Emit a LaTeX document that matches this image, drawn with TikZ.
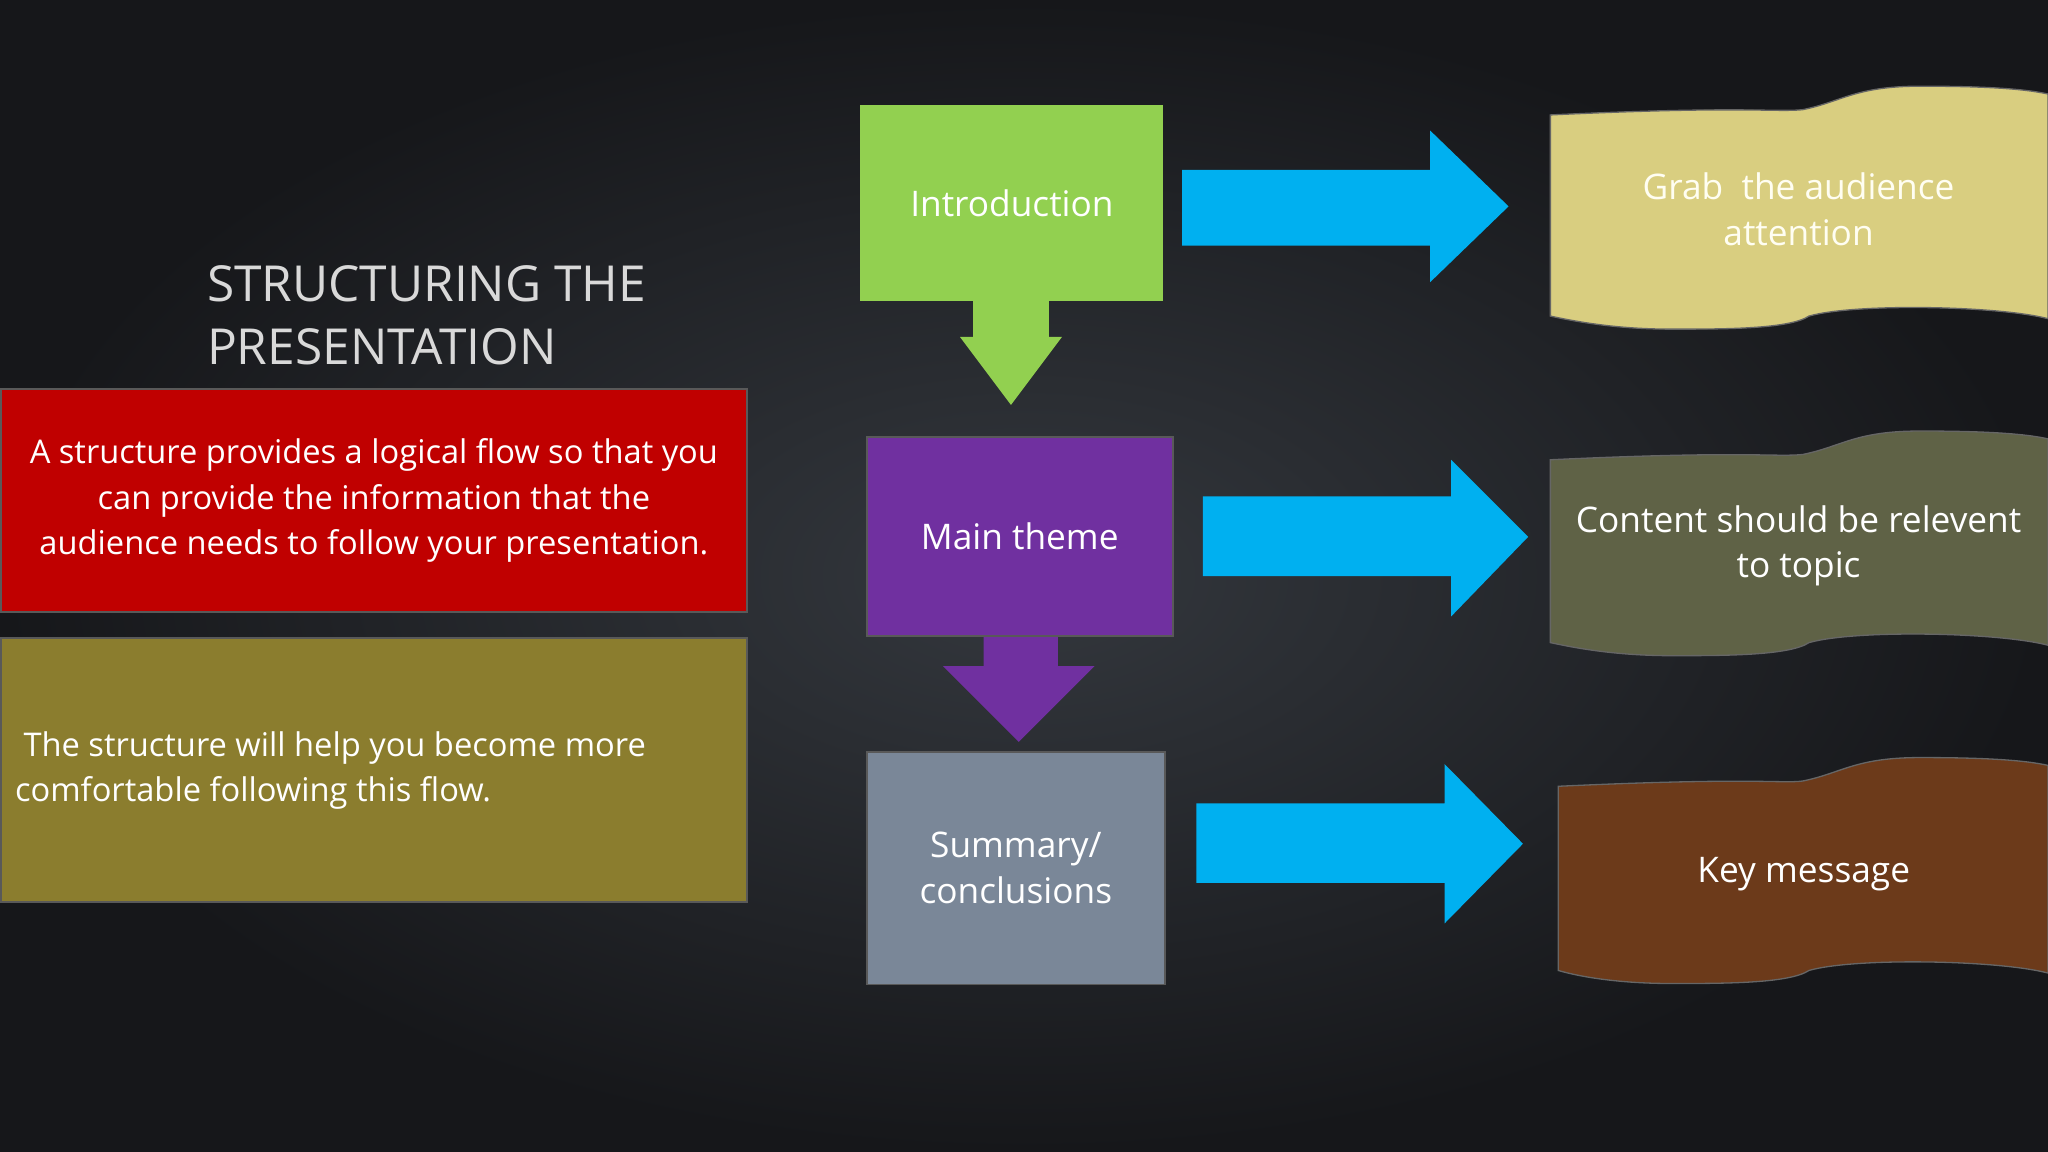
\documentclass[tikz,border=0pt]{standalone}
\usepackage{fontspec}
\setmainfont{Open Sans}
\begin{document}
\begin{tikzpicture}[x=1pt,y=-1pt,
 box/.style={draw=gray!70!black,line width=1.5pt,inner sep=0pt},
 lbl/.style={text=white,align=center,font=\fontsize{27}{35}\selectfont},
 blue/.style={fill=cyan!70!blue!90,draw=none}]
\useasboundingbox (0,0) rectangle (1568,882);
\definecolor{bgin}{RGB}{52,56,62}
\definecolor{bgout}{RGB}{22,23,26}
\shade[inner color=bgin, outer color=bgout] (0,0) rectangle (1568,882);
\node[anchor=north west,text=black!15,align=left,font=\fontsize{38}{48}\selectfont] (title) at (155,200) {STRUCTURING THE\\PRESENTATION};
\node[box,fill={rgb,255:red,192;green,0;blue,0},minimum width=571,minimum height=171,anchor=north west,lbl,font=\fontsize{25}{35}\selectfont] (red) at (0,297) {A structure provides a logical flow so that you\\can provide the information that the\\audience needs to follow your presentation.};
\node[box,fill={rgb,255:red,139;green,125;blue,46},minimum width=571,minimum height=202,anchor=north west] (olive) at (0,488) {};
\node[anchor=west,text=white,align=left,font=\fontsize{25}{35}\selectfont] (olivet) at (8,590) {\ The structure will help you become more\\comfortable following this flow.};
% down arrows
\fill[color={rgb,255:red,146;green,208;blue,80}] (745,225)--(803,225)--(803,258)--(813,258)--(774,310)--(735,258)--(745,258)--cycle;
\fill[color={rgb,255:red,112;green,48;blue,160}] (753,480)--(810,480)--(810,510)--(838,510)--(780,568)--(722,510)--(753,510)--cycle;
\node[box,fill={rgb,255:red,146;green,208;blue,80},draw=none,minimum width=232,minimum height=150,anchor=north west] (intro) at (658,80) {};
\node[lbl] at (intro) {Introduction};
\node[box,fill={rgb,255:red,112;green,48;blue,160},minimum width=234,minimum height=152,anchor=north west] (main) at (663,334) {};
\node[lbl] at (main) {Main theme};
\node[box,fill={rgb,255:red,122;green,135;blue,152},minimum width=228,minimum height=178,anchor=north west] (summ) at (663,575) {};
\node[lbl] at (summ) {Summary/\\conclusions};
% blue arrows
\fill[color={rgb,255:red,0;green,176;blue,240}] (905,130)--(1095,130)--(1095,100)--(1155,158)--(1095,216)--(1095,188)--(905,188)--cycle;
\fill[color={rgb,255:red,0;green,176;blue,240}] (921,380)--(1111,380)--(1111,352)--(1170,411)--(1111,472)--(1111,441)--(921,441)--cycle;
\fill[color={rgb,255:red,0;green,176;blue,240}] (916,615)--(1106,615)--(1106,585)--(1166,646)--(1106,707)--(1106,676)--(916,676)--cycle;
% banners
\newcommand{\banner}[4]{% x0 ytop ybottom color
 \fill[draw=black!60,line width=1pt,fill=#4] (#1,#2+22) .. controls (#1+150,#2+15) and (#1+170,#2+20) .. (1380,#2+18)
   .. controls (1410,#2+12) and (1420,#2) .. (1470,#2) .. controls (1520,#2) and (1550,#2+2) .. (1568,#2+6)
   -- (1568,#3-8) .. controls (1530,#3-18) and (1420,#3-20) .. (1385,#3-10) .. controls (1370,#3) and (1320,#3) .. (1280,#3)
   .. controls (1240,#3) and (1210,#3-5) .. (#1,#3-10) -- cycle;}
\banner{1187}{66}{252}{{rgb,255:red,217;green,206;blue,128}}
\banner{1187}{330}{502}{{rgb,255:red,95;green,98;blue,70}}
\banner{1193}{580}{753}{{rgb,255:red,108;green,58;blue,26}}
\node[lbl,text=white!95!yellow] (g) at (1377,160) {Grab\ \ the audience\\attention};
\node[lbl] (c) at (1377,418) {Content should be relevent\\to topic};
\node[lbl] (k) at (1381,669) {Key message};
\end{tikzpicture}
\end{document}
